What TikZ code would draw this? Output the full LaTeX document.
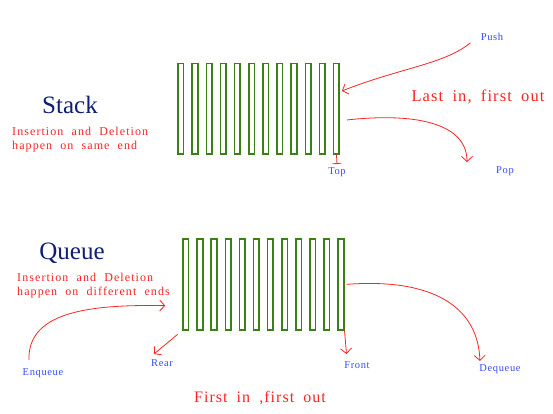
\documentclass[tikz,border=0pt]{standalone}
\usepackage{fontspec}
\setmainfont{Liberation Serif}
\newfontfamily\notefont[LetterSpace=9,WordSpace=2]{Liberation Serif}
\newfontfamily\mottofont[LetterSpace=6.5,WordSpace=1.8]{Liberation Serif}
\newfontfamily\opfont[LetterSpace=6]{Liberation Serif}
\usetikzlibrary{arrows.meta}

\definecolor{cellgreen}{RGB}{58,128,22}
\definecolor{titleblue}{RGB}{16,30,115}
\definecolor{labelblue}{RGB}{55,75,250}
\definecolor{notered}{RGB}{255,35,35}

\tikzset{
    cell/.style={draw=cellgreen, line width=1.6pt, minimum width=5.6pt, minimum height=90.5pt, inner sep=0pt},
    title/.style={text=titleblue, font=\fontsize{25}{28}\selectfont},
    note/.style={text=notered, font=\notefont\fontsize{12}{14}\selectfont, align=left, inner sep=0pt},
    motto/.style={text=notered, font=\mottofont\fontsize{16.5}{18}\selectfont},
    opname/.style={text=labelblue, font=\opfont\fontsize{10.5}{12}\selectfont},
    hand/.style={draw=notered, line width=0.8pt, -{Straight Barb[length=5pt,width=11pt]}}
}

\begin{document}
\begin{tikzpicture}[x=1pt, y=-1pt]
        \useasboundingbox (0,0) rectangle (553,414);

        % Stack diagram
        \begin{scope}
            \foreach \i in {1,...,12}
                \node[cell] (s\i) at ({180.8+14.15*(\i-1)},108.7) {};

            \node[title] (stacktitle) at (70,105) {Stack};
            \node[note, anchor=west] (stacknote) at (12,140) {Insertion and Deletion\\happen on same end};
            \node[opname] (push) at (492,37) {Push};
            \node[motto] (lifo) at (478,97) {Last in, first out};
            \node[opname] (top) at (337,172) {Top};
            \node[opname] (pop) at (505,171) {Pop};
            \coordinate (popend) at (467,162);

            \draw[hand, shorten <=9pt, shorten >=2pt] (push.west) .. controls (445,64) and (400,68) .. ([yshift=17pt]s12.east);
            \draw[hand, shorten <=7pt] ([yshift=-12pt]s12.east) .. controls (420,112) and (467,125) .. (popend);
            \draw[draw=notered, line width=0.8pt, {Bar[width=9pt]}-] (top.north) -- (s12.south);
        \end{scope}

        % Queue diagram
        \begin{scope}
            \foreach \i in {1,...,12}
                \node[cell] (q\i) at ({185.8+14.1*(\i-1)},284.5) {};

            \node[title] (queuetitle) at (72,253) {Queue};
            \node[note, anchor=west] (queuenote) at (17,286) {Insertion and Deletion\\happen on different ends};
            \node[opname] (enq) at (43,373) {Enqueue};
            \node[opname] (rear) at (162,363) {Rear};
            \node[opname] (front) at (357,365) {Front};
            \node[opname] (deq) at (500,369) {Dequeue};
            \node[motto, font=\mottofont\fontsize{16}{18}\selectfont] (fifo) at (260,398) {First in ,first out};

            \draw[hand, shorten <=5pt, shorten >=17pt] ([xshift=-14pt]enq.north) .. controls (28,315) and (80,304) .. ([yshift=-21.5pt]q1.west);
            \draw[hand, shorten <=6pt, shorten >=3pt] (q1.south west) -- ([xshift=4pt]rear.north west);
            \draw[hand, shorten >=4pt] (q12.south east) -- ([xshift=6pt]front.north west);
            \draw[hand, shorten <=2pt] (q12.east) .. controls (430,278) and (478,305) .. ([xshift=4pt]deq.north west);
        \end{scope}
    \end{tikzpicture}
\end{document}
